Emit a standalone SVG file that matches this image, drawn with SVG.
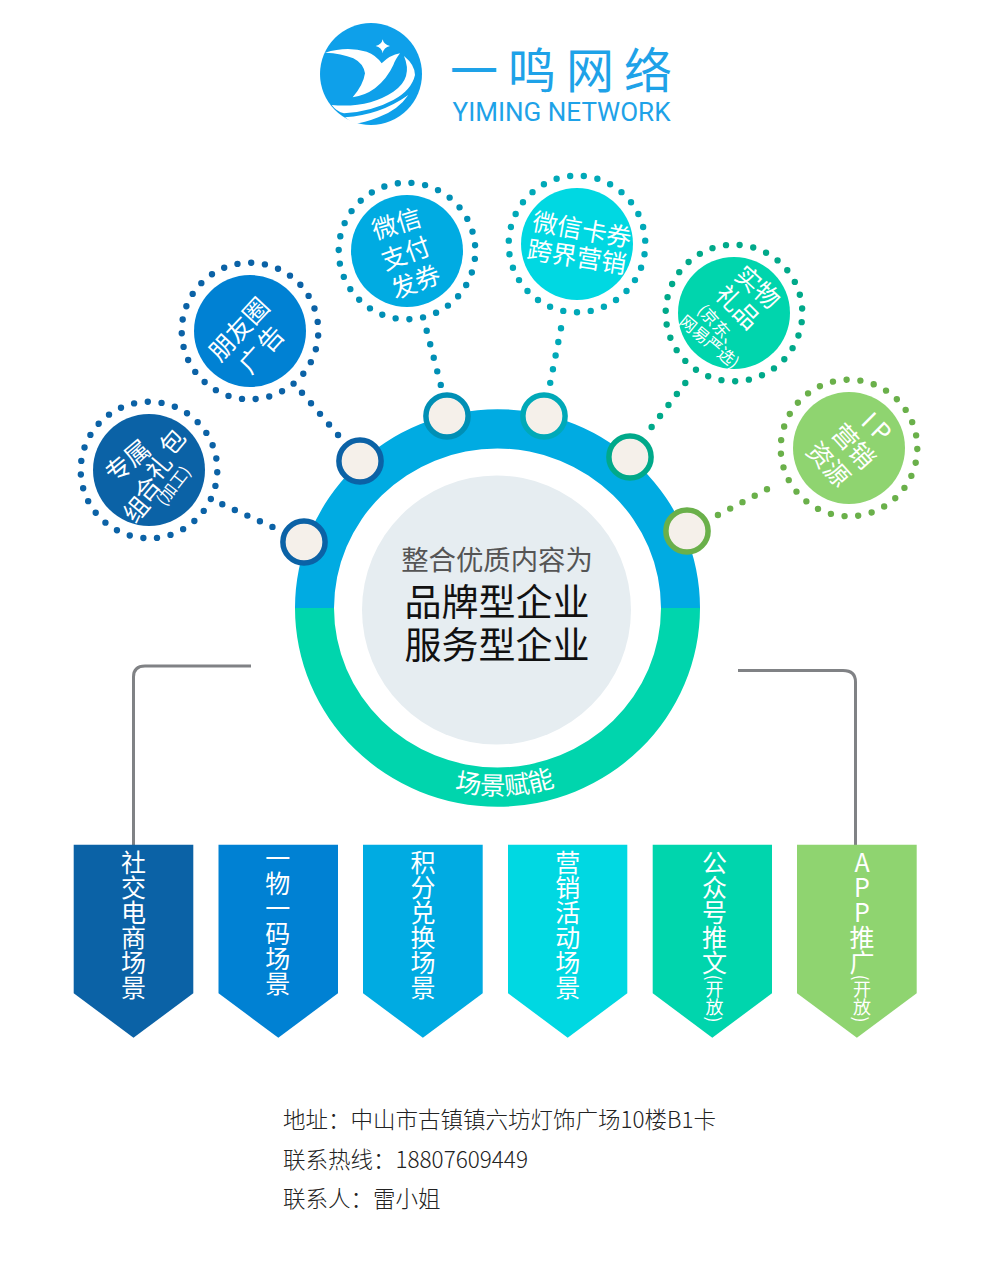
<svg xmlns="http://www.w3.org/2000/svg" width="998" height="1265" viewBox="0 0 998 1265">
<style>
text{font-family:"Noto Sans CJK SC","Noto Sans",sans-serif;font-weight:400}
.w{fill:#fff}
.c{fill:#fff;font-size:25px;text-anchor:middle;dominant-baseline:central}
.s{fill:#fff;font-size:16.5px;text-anchor:middle;dominant-baseline:central}
.v{fill:#fff;font-size:25px;writing-mode:vertical-rl}
.v .p{font-size:18px}
.v .u{text-orientation:upright}
.f{fill:#222;font-size:22.5px;font-weight:300}
.ring{fill:none;stroke-width:6.4;stroke-linecap:round;stroke-dasharray:0 1}
.dots{fill:none;stroke-width:6.4;stroke-linecap:round}
.knob{fill:#f5f0ea;stroke-width:5.5}
</style>
<defs>
<path id="arcText" d="M310 608A187.500 187 0 0 0 685 608"/>
</defs>
<rect width="998" height="1265" fill="#fff"/>
<g id="logo">
<circle cx="371" cy="74" r="51" fill="#0ea0ea"/>
<g transform="translate(300 10) scale(.33333)" fill="#fff">
<path d="M248 88Q251 104 270 108Q251 112 248 130Q245 112 227 108Q245 104 248 88Z"/>
<path d="M75 128Q140 108 200 125Q228 135 245 160Q270 135 300 130Q285 150 280 165Q262 205 225 235Q195 257 158 262Q190 225 195 190Q190 160 160 145Q125 130 75 128Z"/>
<path d="M312 138Q345 165 345 195Q335 240 280 270Q215 305 132 310Q110 305 95 285Q205 295 280 245Q340 205 312 138Z"/>
<path d="M135 322Q240 315 325 255Q295 300 235 322Q190 340 165 340Q148 334 135 322Z"/>
</g>
<text x="450" y="88" font-size="48" letter-spacing="10" fill="#1ea2e8">一鸣网络</text>
<text x="452.500" y="120.500" font-size="25" textLength="218" lengthAdjust="spacingAndGlyphs" fill="#1ea2e8" style="font-family:Roboto,'Noto Sans',sans-serif">YIMING NETWORK</text>
</g>
<g id="connectors">
<line class="dots" x1="222.3" y1="504.3" x2="272.9" y2="527.1" stroke="#0b62a6" stroke-dasharray="0 13.75"/>
<line class="dots" x1="302" y1="392.7" x2="338.2" y2="435.2" stroke="#0b62a6" stroke-dasharray="0 13.9"/>
<line class="dots" x1="426.7" y1="330.7" x2="440.8" y2="385" stroke="#008fb5" stroke-dasharray="0 14"/>
<line class="dots" x1="561" y1="328.3" x2="550.2" y2="383" stroke="#00a9b8" stroke-dasharray="0 13.9"/>
<line class="dots" x1="685.3" y1="383" x2="651.5" y2="427.2" stroke="#00a98a" stroke-dasharray="0 13.85"/>
<line class="dots" x1="767" y1="489.3" x2="717.8" y2="515.1" stroke="#6ab04a" stroke-dasharray="0 13.85"/>
<path d="M251 666H145Q133.500 666 133.500 677V845" fill="none" stroke="#808285" stroke-width="3"/>
<path d="M738 670.500H843Q855.500 670.500 855.500 682V845" fill="none" stroke="#808285" stroke-width="3"/>
</g>
<g id="hub">
<path d="M295 608A202.500 198.800 0 0 1 700 608H661A163.500 159.500 0 0 0 334 608Z" fill="#00abe2"/>
<path d="M295 608A202.500 198.800 0 0 0 700 608H661A163.500 159.500 0 0 1 334 608Z" fill="#00d5ad"/>
<circle cx="496.500" cy="610" r="134.500" fill="#e6edf1"/>
<text x="497" y="570" font-size="27.400" text-anchor="middle" fill="#555">整合优质内容为</text>
<text x="497" y="615.500" font-size="37" text-anchor="middle" fill="#111">品牌型企业</text>
<text x="497" y="659" font-size="37" text-anchor="middle" fill="#111">服务型企业</text>
<text class="w" font-size="25.500"><textPath href="#arcText" startOffset="51.300%" text-anchor="middle">场景赋能</textPath></text>
</g>
<g id="knobs">
<circle class="knob" cx="304" cy="542" r="21.100" stroke="#0b62a6"/>
<circle class="knob" cx="360" cy="461" r="21.100" stroke="#0b62a6"/>
<circle class="knob" cx="447" cy="416" r="21.100" stroke="#008fb5"/>
<circle class="knob" cx="544" cy="416" r="21.100" stroke="#00a9b8"/>
<circle class="knob" cx="630" cy="457" r="21.100" stroke="#00a98a"/>
<circle class="knob" cx="687" cy="531" r="21.100" stroke="#6ab04a"/>
</g>
<g id="node-gift">
<circle cx="149" cy="470" r="56" fill="#0b62a6"/>
<circle class="ring" cx="149" cy="470" r="68.300" pathLength="31" stroke="#0b62a6" transform="rotate(-91 149 470)"/>
<text class="c" transform="translate(126.500 459.500) rotate(-40)">专属</text>
<text class="w" font-size="24.500" x="135.200 146 158 171.500" y="524.500 504 482 457" rotate="-50 -50 -50 -50">组合礼包</text>
<text class="s" transform="translate(172.500 485) rotate(-52)">(加工)</text>
</g>
<g id="node-moments">
<circle cx="250" cy="331" r="56" fill="#0081d3"/>
<circle class="ring" cx="250" cy="331" r="68.300" pathLength="31" stroke="#0b62a6" transform="rotate(-89 250 331)"/>
<text class="c" transform="translate(237.500 328) rotate(-47)">朋友圈</text>
<text class="c" letter-spacing="3" transform="translate(261 347) rotate(-48)">广告</text>
</g>
<g id="node-pay">
<circle cx="407" cy="251" r="56" fill="#00abe2"/>
<circle class="ring" cx="407" cy="251" r="68.300" pathLength="31" stroke="#008fb5" transform="rotate(88 407 251)"/>
<text class="c" transform="translate(396 222) rotate(-17)">微信</text>
<text class="c" transform="translate(405 251.700) rotate(-20)">支付</text>
<text class="c" transform="translate(415 280) rotate(-20)">发券</text>
</g>
<g id="node-coupon">
<circle cx="577" cy="244" r="56" fill="#00d8e2"/>
<circle class="ring" cx="577" cy="244" r="68.300" pathLength="31" stroke="#00a9b8" transform="rotate(90 577 244)"/>
<text class="c" transform="translate(582.300 227.800) rotate(10)">微信卡券</text>
<text class="c" transform="translate(577 255) rotate(9)">跨界营销</text>
</g>
<g id="node-goods">
<circle cx="734" cy="313" r="56" fill="#00d5ad"/>
<circle class="ring" cx="734" cy="313" r="68.300" pathLength="31" stroke="#00a98a" transform="rotate(89 734 313)"/>
<text class="c" transform="translate(759 285.700) rotate(42)">实物</text>
<text class="c" transform="translate(739 305.700) rotate(45)">礼品</text>
<text class="s" transform="translate(720 326.700) rotate(48)">(京东、</text>
<text class="s" transform="translate(710 341) rotate(40)">网易严选)</text>
</g>
<g id="node-ip">
<circle cx="849" cy="448" r="56" fill="#8fd470"/>
<circle class="ring" cx="849" cy="448" r="68.300" pathLength="31" stroke="#6ab04a" transform="rotate(-92 849 448)"/>
<text class="c" letter-spacing="6" transform="translate(880 428) rotate(45)">IP</text>
<text class="c" transform="translate(855 445) rotate(48)">营销</text>
<text class="c" transform="translate(830 463) rotate(48)">资源</text>
</g>
<g id="tag-social">
<path d="M73.700 844.700H193.300V993.300L133.500 1037.700L73.700 993.300Z" fill="#0b62a6"/>
<text class="v" x="133.500" y="849.500">社交电商场景</text>
</g>
<g id="tag-code">
<path d="M218.500 844.700H338V993.300L278.300 1037.700L218.500 993.300Z" fill="#0081d3"/>
<text class="v" x="277.800" y="846">一物一码场景</text>
</g>
<g id="tag-points">
<path d="M363 844.700H482.700V993.300L422.900 1037.700L363 993.300Z" fill="#00abe2"/>
<text class="v" x="422.900" y="849.500">积分兑换场景</text>
</g>
<g id="tag-activity">
<path d="M508 844.700H627.300V993.300L567.700 1037.700L508 993.300Z" fill="#00d8e2"/>
<text class="v" x="567.700" y="849.500">营销活动场景</text>
</g>
<g id="tag-wechat">
<path d="M652.700 844.700H772V993.300L712.300 1037.700L652.700 993.300Z" fill="#00d5ad"/>
<text class="v" x="714.500" y="849.500">公众号推文<tspan class="p">(开放)</tspan></text>
</g>
<g id="tag-app">
<path d="M797 844.700H916.700V993.300L856.900 1037.700L797 993.300Z" fill="#8fd470"/>
<text class="v" x="862" y="849.500"><tspan class="u">APP</tspan>推广<tspan class="p">(开放)</tspan></text>
</g>
<g id="footer">
<text class="f" x="283" y="1128">地址：中山市古镇镇六坊灯饰广场10楼B1卡</text>
<text class="f" x="283" y="1168">联系热线：18807609449</text>
<text class="f" x="283" y="1207">联系人：雷小姐</text>
</g>
</svg>
